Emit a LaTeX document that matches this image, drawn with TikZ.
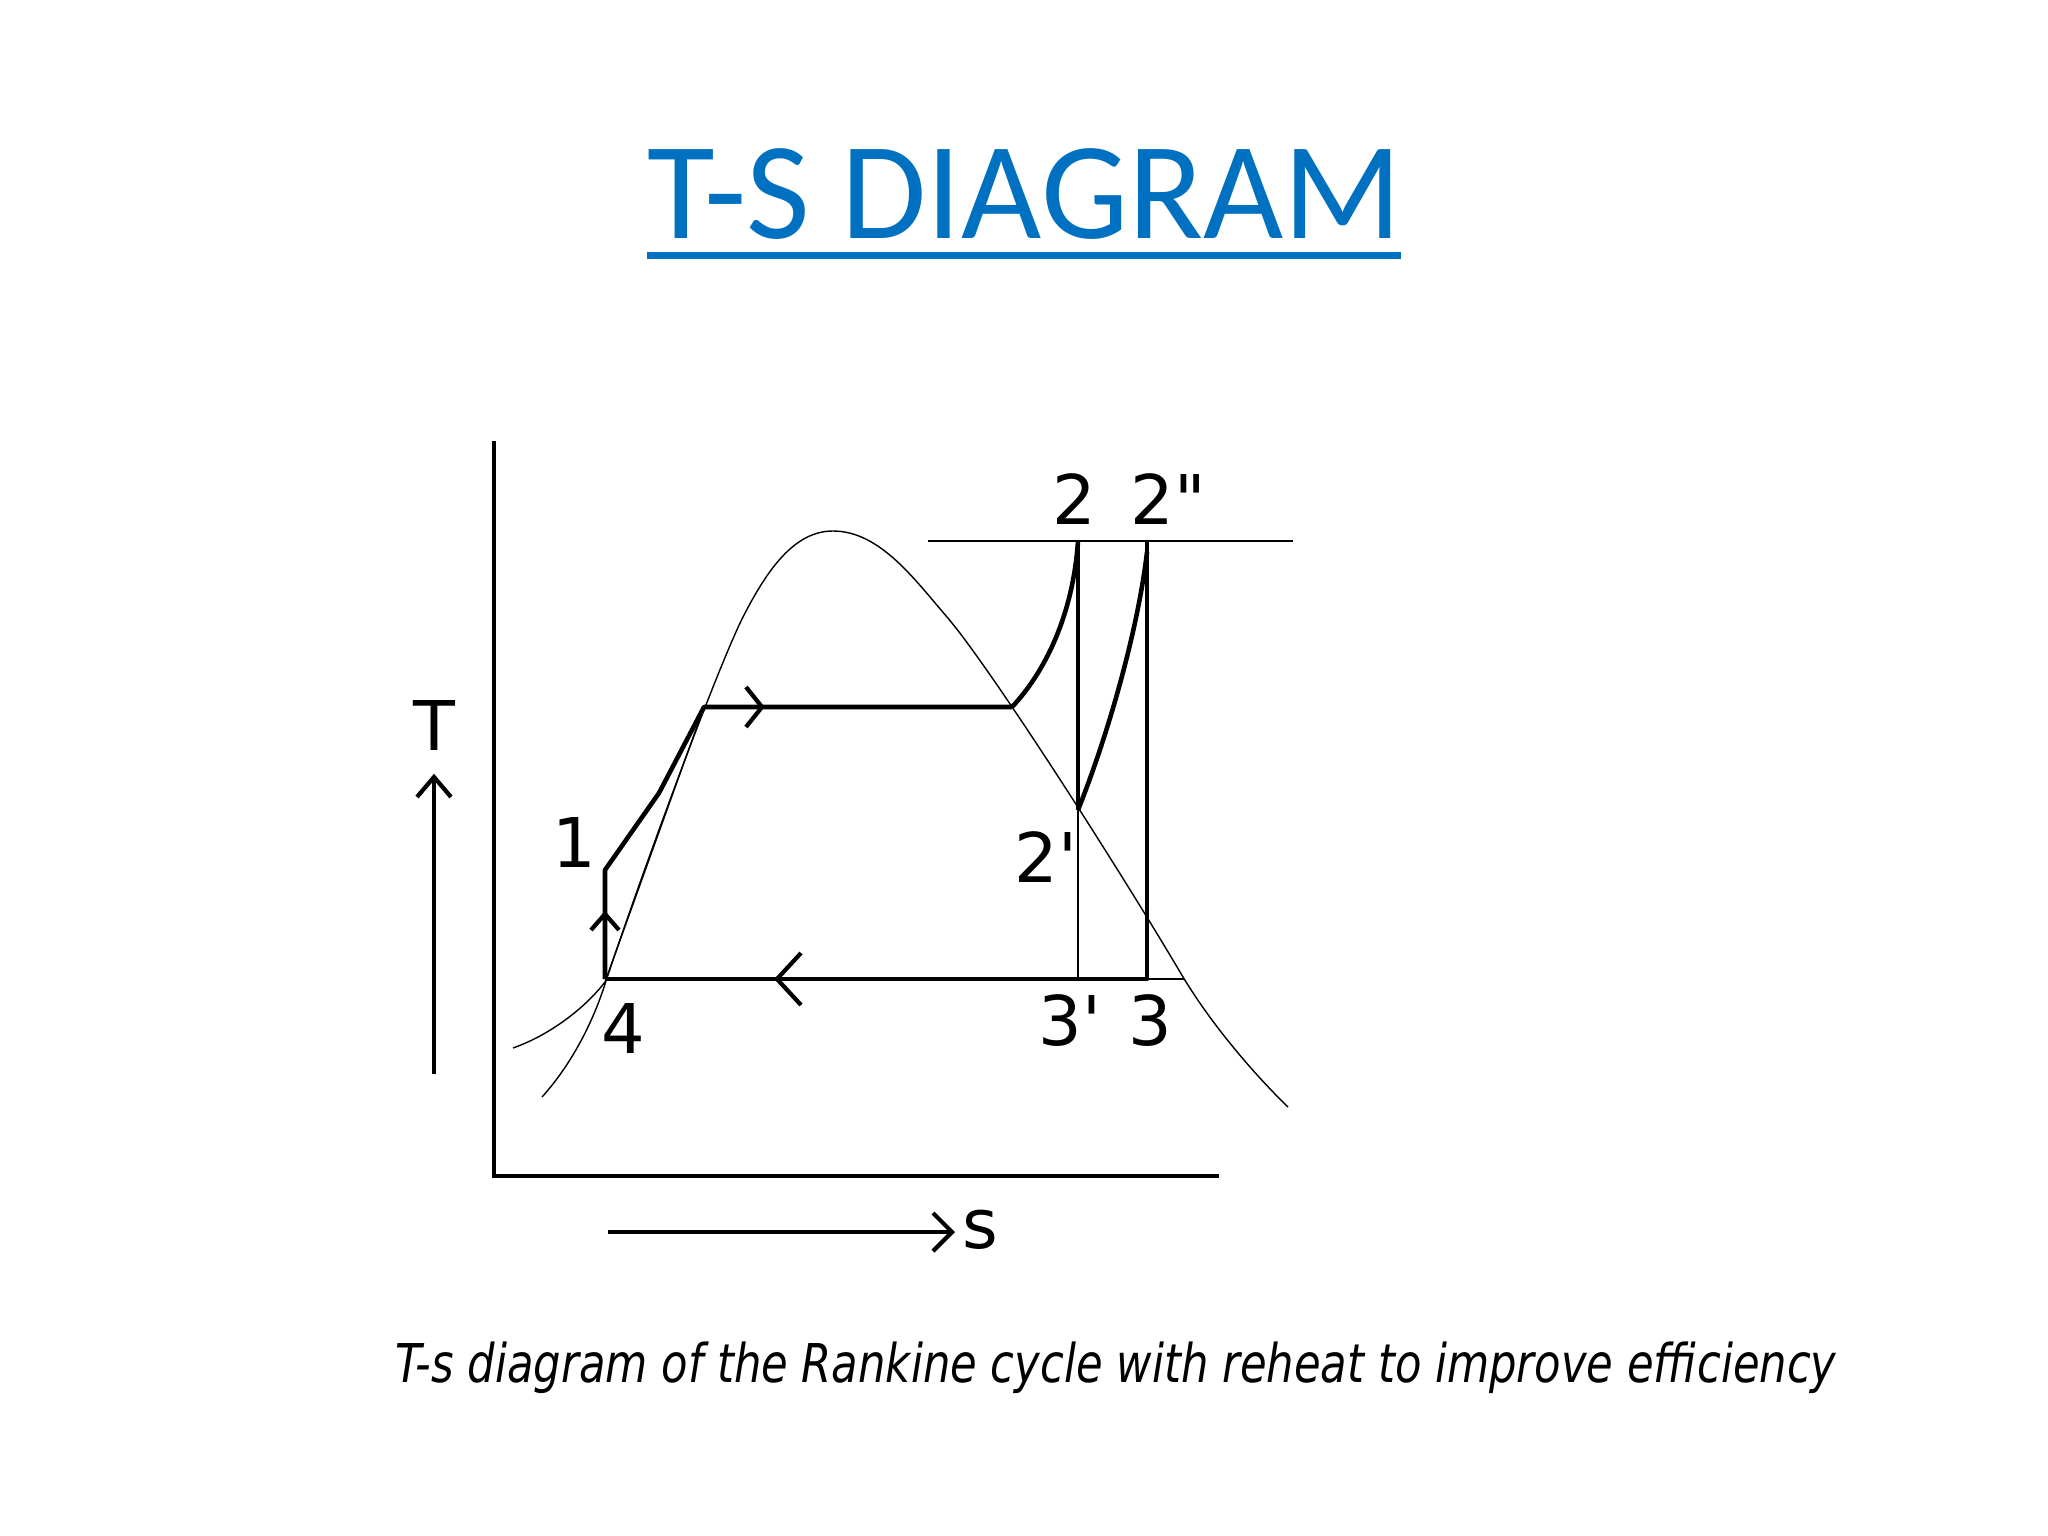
\documentclass[tikz,border=0pt]{standalone}
\usepackage{fontspec}
\setmainfont{DejaVu Sans}
\newfontfamily\titlefont{Carlito}
\newfontfamily\lblfont{DejaVu Sans}
\usetikzlibrary{calc}
\definecolor{titleblue}{HTML}{0070C0}
\newcommand\sqt{\XeTeXglyph\XeTeXcharglyph"27\relax}
\newcommand\dqt{\XeTeXglyph\XeTeXcharglyph"22\relax}
\tikzset{
  axisline/.style={line width=1.4pt},
  boldline/.style={line width=1.3pt, line join=round},
  thinline/.style={line width=0.4pt},
  medline/.style={line width=0.6pt},
  chev/.style={line width=1.2pt, line join=miter},
  lbl/.style={font=\lblfont\fontsize{19.5}{22}\selectfont, inner sep=0pt, anchor=base},
}
\begin{document}
\begin{tikzpicture}[x=0.01cm,y=-0.01cm]
\useasboundingbox[fill=white] (0,0) rectangle (2048,1536);

% title
\node[font=\titlefont\fontsize{39.4}{44}\selectfont, text=titleblue, inner sep=0pt, anchor=base] (title) at (1025,238) {T-S DIAGRAM};
\fill[titleblue] (647,252) rectangle (1401,259);

% axes
\coordinate (O) at (494,1176);
\coordinate (Ytop) at (494,441);
\coordinate (Xend) at (1219,1176);
\draw[axisline] (Ytop) -- (O) -- (Xend);

% T arrow
\coordinate (Tbot) at (434,1074);
\coordinate (Ttip) at (434,777);
\draw[chev] (Tbot) -- (Ttip);
\draw[chev] (417,797) -- (Ttip) -- (451,797);
\node[lbl] (Tlab) at (434,750) {T};

% s arrow
\coordinate (Sst) at (608,1232);
\coordinate (Stip) at (952,1232);
\draw[chev] (Sst) -- (Stip);
\draw[chev] (933,1213) -- (Stip) -- (933,1251);
\node[lbl] (Slab) at (980,1248) {s};

% saturation dome
\coordinate (D0) at (542,1097);
\coordinate (D1) at (605,984);
\coordinate (D2) at (743,617);
\coordinate (Dpk) at (833,531);
\coordinate (D3) at (947,617);
\coordinate (D4) at (1183,977);
\coordinate (D5) at (1288,1107);
\draw[thinline] (D0) .. controls (570,1066) and (592,1025) .. (D1)
  .. controls (638,884) and (715,673) .. (D2)
  .. controls (768,568) and (795,531) .. (Dpk)
  .. controls (880,531) and (915,580) .. (D3)
  .. controls (990,667) and (1120,870) .. (D4)
  .. controls (1215,1030) and (1260,1080) .. (D5);

% cycle points
\coordinate (P4) at (605,979);
\coordinate (P1) at (605,870);
\coordinate (K) at (659,793);
\coordinate (Pa) at (704,707);
\coordinate (Pb) at (1012,707);
\coordinate (P2) at (1078,541);
\coordinate (P2p) at (1078,810);
\coordinate (P2pp) at (1147,541);
\coordinate (P3p) at (1078,979);
\coordinate (P3) at (1147,979);
\coordinate (P3x) at (1184,979);
\coordinate (Lst) at (928,541);
\coordinate (Lend) at (1293,541);
\coordinate (C0) at (513,1048);

% compressed liquid line
\draw[thinline] (C0) .. controls (550,1035) and (585,1008) .. (605,982) -- (Pa);

% top pressure line
\draw[medline] (Lst) -- (Lend);

% cycle
\draw[boldline] (P4) -- (P1) -- (K) -- (Pa) -- (Pb);
\draw[boldline] (Pb) .. controls (1045,672) and (1073,615) .. (P2);
\draw[boldline] (P2) -- (P2p);
\draw[medline] (P2p) -- (P3p);
\draw[boldline] (P2p) .. controls (1108,735) and (1138,630) .. (1147,552);
\draw[boldline] (P2pp) -- (P3) -- (P4);
\draw[thinline] (P3) -- (P3x);

% direction chevrons
\coordinate (A1) at (605,914);
\draw[chev] (591,930) -- (A1) -- (619,930);
\coordinate (A2) at (762,707);
\draw[chev] (746,687) -- (A2) -- (746,727);
\coordinate (A3) at (777,979);
\draw[chev] (801,953) -- (A3) -- (801,1005);

% labels
\node[lbl] (l1) at (574,867) {1};
\node[lbl] (l4) at (623,1053) {4};
\node[lbl] (l2) at (1074,524) {2};
\node[lbl] (l2pp) at (1168,524) {2\dqt};
\node[lbl] (l2p) at (1046,882) {2\sqt};
\node[lbl] (l3p) at (1070,1045) {3\sqt};
\node[lbl] (l3) at (1150,1045) {3};

% caption
\node[inner sep=0pt, anchor=base] (cap) at (1116,1382) {\scalebox{0.81}[1]{\fontsize{15.2}{18}\selectfont\itshape T-s diagram of the Rankine cycle with reheat to improve efficiency}};
\end{tikzpicture}
\end{document}
